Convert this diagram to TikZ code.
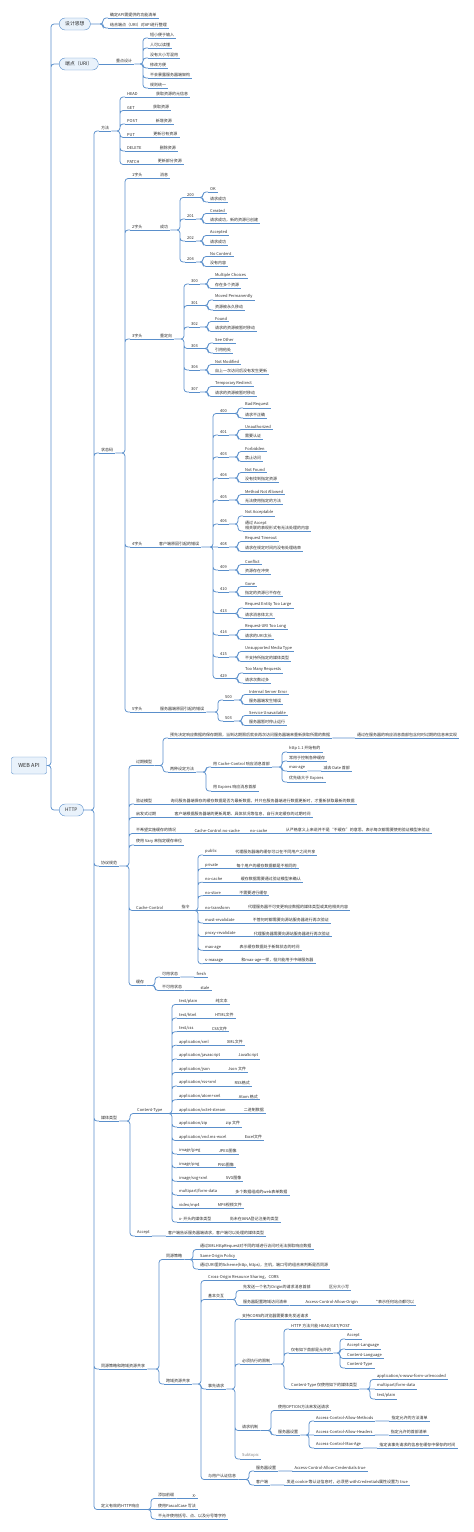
\documentclass[tikz,border=0pt]{standalone}
\usepackage{fontspec}
\newfontfamily\cjk{Noto Sans CJK SC}
\definecolor{linec}{HTML}{5A8FCB}
\definecolor{bubfill}{HTML}{E9F2FB}
\definecolor{txt}{HTML}{2B2B2B}
\tikzset{
    edge/.style={draw=linec, line width=0.75pt, rounded corners=3pt},
    topic/.style={anchor=south west, inner xsep=2pt, inner ysep=1pt, text=txt, font=\cjk\fontsize{4}{4.8}\selectfont,
        append after command={(\tikzlastnode.south west) edge[edge] (\tikzlastnode.south east)}},
    bubble/.style={draw=linec, fill=bubfill, rounded corners=6pt, anchor=west, minimum height=12pt, inner xsep=6pt, text=txt, font=\cjk\fontsize{4.8}{5}\selectfont},
    root/.style={draw=linec, fill=bubfill, rounded corners=2pt, minimum width=35pt, minimum height=17pt, text=txt, font=\cjk\fontsize{5.5}{6}\selectfont},
    trunk/.style={to path={(\tikztostart.east) -| ([xshift=-8pt]\tikztotarget.west) -- (\tikztotarget.west)}},
    hub/.style={to path={(\tikztostart.east) -| ([xshift=-5pt]\tikztotarget.south west) -- (\tikztotarget.south west)}},
    branch/.style={to path={(\tikztostart.south east) -| ([xshift=-5pt]\tikztotarget.south west) -- (\tikztotarget.south west)}},
    pair/.style={to path={(\tikztostart.south east) -- (\tikztotarget.south west)}},
}
\begin{document}
\begin{tikzpicture}[x=1pt, y=-1pt]
    \useasboundingbox (0,0) rectangle (474,1532);
    \node[root] (api) at (29,765.5) {WEB API};
    \node[bubble] (sj) at (59,24) {设计思想};
    \node[bubble] (dd) at (59,64) {端点（URI）};
    \node[bubble] (http) at (59,810) {HTTP};

    \node[topic] (sj1) at (108,18) {确定API需提供的功能清单};
    \node[topic] (sj2) at (108,28) {结合端点（URI）对API进行整理};

    \node[topic] (zd) at (114,64) {重点设计};
    \node[topic] (zd1) at (148,38) {短小便于输入};
    \node[topic] (zd2) at (148,48) {人可以读懂};
    \node[topic] (zd3) at (148,58) {没有大小写混用};
    \node[topic] (zd4) at (148,68) {修改方便};
    \node[topic] (zd5) at (148,78) {不会暴露服务器端架构};
    \node[topic] (zd6) at (148,88) {规则统一};

    \node[topic] (ff) at (99,131) {方法};
    \node[topic] (m1) at (125,97) {HEAD};
    \node[topic] (m2) at (125,110.5) {GET};
    \node[topic] (m3) at (125,124) {POST};
    \node[topic] (m4) at (125,137.5) {PUT};
    \node[topic] (m5) at (125,151) {DELETE};
    \node[topic] (m6) at (125,164.5) {PATCH};
    \node[topic] (m1v) at ([xshift=14pt]m1.south east) {获取资源的元信息};
    \node[topic] (m2v) at ([xshift=14pt]m2.south east) {获取资源};
    \node[topic] (m3v) at ([xshift=14pt]m3.south east) {新增资源};
    \node[topic] (m4v) at ([xshift=14pt]m4.south east) {更新已有资源};
    \node[topic] (m5v) at ([xshift=14pt]m5.south east) {删除资源};
    \node[topic] (m6v) at ([xshift=14pt]m6.south east) {更新部分资源};

    \node[topic] (zt) at (99,453) {状态码};
    \node[topic] (s1) at (130,178.5) {1字头};
    \node[topic] (s2) at (130,230) {2字头};
    \node[topic] (s3) at (130,339) {3字头};
    \node[topic] (s4) at (130,547) {4字头};
    \node[topic] (s5) at (130,712) {5字头};
    \node[topic] (s1a) at (158,178.5) {消息};
    \node[topic] (s2a) at (158,230) {成功};
    \node[topic] (s3a) at (158,339) {重定向};
    \node[topic] (s4a) at (157,547) {客户端原因引起的错误};
    \node[topic] (s5a) at (158,712) {服务器端原因引起的错误};

    \node[topic] (c200) at (185,197.5) {200};
    \node[topic] (c200a) at (208,192) {OK};
    \node[topic] (c200b) at (208,202) {请求成功};
    \node[topic] (c201) at (185,219) {201};
    \node[topic] (c201a) at (208,213.5) {Created};
    \node[topic] (c201b) at (208,223.5) {请求成功，新的资源已创建};
    \node[topic] (c202) at (185,241) {202};
    \node[topic] (c202a) at (208,235.5) {Accepted};
    \node[topic] (c202b) at (208,245.5) {请求成功};
    \node[topic] (c204) at (185,262) {204};
    \node[topic] (c204a) at (208,256.5) {No Content};
    \node[topic] (c204b) at (208,266.5) {没有内容};

    \node[topic] (c300) at (189,284) {300};
    \node[topic] (c300a) at (213,278.5) {Multiple Choices};
    \node[topic] (c300b) at (213,288.5) {存在多个资源};
    \node[topic] (c301) at (189,305.5) {301};
    \node[topic] (c301a) at (213,300) {Moved Permanently};
    \node[topic] (c301b) at (213,310) {资源被永久移动};
    \node[topic] (c302) at (189,327) {302};
    \node[topic] (c302a) at (213,321.5) {Found};
    \node[topic] (c302b) at (213,331.5) {请求的资源被暂时移动};
    \node[topic] (c303) at (189,348.5) {303};
    \node[topic] (c303a) at (213,343) {See Other};
    \node[topic] (c303b) at (213,353) {引用他处};
    \node[topic] (c304) at (189,370) {304};
    \node[topic] (c304a) at (213,364.5) {Not Modified};
    \node[topic] (c304b) at (213,374.5) {自上一次访问后没有发生更新};
    \node[topic] (c307) at (189,392) {307};
    \node[topic] (c307a) at (213,386.5) {Temporary Redirect};
    \node[topic] (c307b) at (213,396.5) {请求的资源被暂时移动};

    \node[topic] (c400) at (218,413.5) {400};
    \node[topic] (c400a) at (243,408) {Bad Request};
    \node[topic] (c400b) at (243,418) {请求不正确};
    \node[topic] (c401) at (218,435) {401};
    \node[topic] (c401a) at (243,429.5) {Unauthorized};
    \node[topic] (c401b) at (243,439.5) {需要认证};
    \node[topic] (c403) at (218,457) {403};
    \node[topic] (c403a) at (243,451.5) {Forbidden};
    \node[topic] (c403b) at (243,461.5) {禁止访问};
    \node[topic] (c404) at (218,478) {404};
    \node[topic] (c404a) at (243,472.5) {Not Found};
    \node[topic] (c404b) at (243,482.5) {没有找到指定资源};
    \node[topic] (c405) at (218,500) {405};
    \node[topic] (c405a) at (243,494.5) {Method Not Allowed};
    \node[topic] (c405b) at (243,504.5) {无法使用指定的方法};
    \node[topic] (c406) at (218,524) {406};
    \node[topic] (c406a) at (243,516) {Not Acceptable};
    \node[topic, align=left] (c406b) at (243,531) {通过 Accept\\相关联的表现形式有无法处理的内容};
    \node[topic] (c408) at (218,547) {408};
    \node[topic] (c408a) at (243,541.5) {Request Timeout};
    \node[topic] (c408b) at (243,551.5) {请求在规定时间内没有处理结束};
    \node[topic] (c409) at (218,570) {409};
    \node[topic] (c409a) at (243,564.5) {Conflict};
    \node[topic] (c409b) at (243,574.5) {资源存在冲突};
    \node[topic] (c410) at (218,592) {410};
    \node[topic] (c410a) at (243,586.5) {Gone};
    \node[topic] (c410b) at (243,596.5) {指定的资源已不存在};
    \node[topic] (c413) at (218,613.5) {413};
    \node[topic] (c413a) at (243,608) {Request Entity Too Large};
    \node[topic] (c413b) at (243,618) {请求消息体太大};
    \node[topic] (c414) at (218,635) {414};
    \node[topic] (c414a) at (243,629.5) {Request-URI Too Long};
    \node[topic] (c414b) at (243,639.5) {请求的URI太长};
    \node[topic] (c415) at (218,657) {415};
    \node[topic] (c415a) at (243,651.5) {Unsupported Media Type};
    \node[topic] (c415b) at (243,661.5) {不支持所指定的媒体类型};
    \node[topic] (c429) at (218,678.5) {429};
    \node[topic] (c429a) at (243,673) {Too Many Requests};
    \node[topic] (c429b) at (243,683) {请求次数过多};

    \node[topic] (c500) at (223,700) {500};
    \node[topic] (c500a) at (247,694.5) {Internal Server Error};
    \node[topic] (c500b) at (247,704.5) {服务器端发生错误};
    \node[topic] (c503) at (223,721) {503};
    \node[topic] (c503a) at (247,715.5) {Service Unavailable};
    \node[topic] (c503b) at (247,725.5) {服务器暂时停止运行};

    \node[topic] (xy) at (99,866) {协议规范};
    \node[topic] (gq) at (134,765.5) {过期模型};
    \node[topic] (gq1) at (168,738) {预先决定响应数据的保存期限，当到达期限后就会再次访问服务器端来重新获取所需的数据};
    \node[topic] (gq1v) at (355,738) {通过在服务器的响应消息首部包含何时过期的信息来实现};
    \node[topic] (gq2) at (168,772) {两种设定方法};
    \node[topic] (cm) at (211,767) {用 Cache-Control 响应消息首部};
    \node[topic] (em) at (211,791) {用 Expires 响应消息首部};
    \node[topic] (cm1) at (287,752) {http 1.1 开始有的};
    \node[topic] (cm2) at (287,761) {常用于控制各种缓存};
    \node[topic] (cm3) at (287,771) {max-age};
    \node[topic] (cm3v) at ([xshift=14pt]cm3.south east) {减去 Date 首部};
    \node[topic] (cm4) at (287,782) {优先级大于 Expires};
    \node[topic] (yz) at (134,804) {验证模型};
    \node[topic] (yzv) at ([xshift=14pt]yz.south east) {询问服务器端保存的缓存数据是否为最新数据，并只在服务器端进行数据更新时，才重新获取最新的数据};
    \node[topic] (qf) at (134,817.5) {启发式过期};
    \node[topic] (qfv) at ([xshift=14pt]qf.south east) {客户端根据服务器端的更新周期、具体状况等信息，自行决定缓存的过期时间};
    \node[topic] (bx) at (134,833.5) {不希望实施缓存的情况};
    \node[topic] (bx1) at ([xshift=14pt]bx.south east) {Cache-Control:no-cache};
    \node[topic] (bx2) at ([xshift=6pt]bx1.south east) {no-cache};
    \node[topic] (bx3) at ([xshift=14pt]bx2.south east) {从严格意义上来说并不是“不缓存”的意思，表示每次都需要使用验证模型来验证};
    \node[topic] (vy) at (134,845) {使用 Vary 来指定缓存单位};

    \node[topic] (cc) at (134,910.5) {Cache-Control};
    \node[topic] (zl) at ([xshift=14pt]cc.south east) {指令};
    \node[topic] (d1) at (203,855) {public};
    \node[topic] (d2) at (203,868.6) {private};
    \node[topic] (d3) at (203,882.2) {no-cache};
    \node[topic] (d4) at (203,895.8) {no-store};
    \node[topic] (d5) at (203,910.5) {no-transform};
    \node[topic] (d6) at (203,923) {must-revalidate};
    \node[topic] (d7) at (203,936.6) {proxy-revalidate};
    \node[topic] (d8) at (203,950.2) {max-age};
    \node[topic] (d9) at (203,963.8) {s-maxage};
    \node[topic] (d1v) at ([xshift=14pt]d1.south east) {代理服务器端的缓存可以在不同用户之间共享};
    \node[topic] (d2v) at ([xshift=14pt]d2.south east) {每个用户的缓存数据都是不相同的};
    \node[topic] (d3v) at ([xshift=14pt]d3.south east) {缓存数据需要通过验证模型来确认};
    \node[topic] (d4v) at ([xshift=14pt]d4.south east) {不需要进行缓存};
    \node[topic] (d5v) at ([xshift=14pt]d5.south east) {代理服务器不可变更响应数据的媒体类型或其他相关内容};
    \node[topic] (d6v) at ([xshift=14pt]d6.south east) {不管何时都需要向源站服务器进行再次验证};
    \node[topic] (d7v) at ([xshift=14pt]d7.south east) {代理服务器需要向源站服务器进行再次验证};
    \node[topic] (d8v) at ([xshift=14pt]d8.south east) {表示缓存数据处于新鲜状态的时间};
    \node[topic] (d9v) at ([xshift=14pt]d9.south east) {和max-age一样，但只能用于中继服务器};

    \node[topic] (hc) at (134,985.5) {缓存};
    \node[topic] (hc1) at (160,977) {可用状态};
    \node[topic] (hc1v) at ([xshift=14pt]hc1.south east) {fresh};
    \node[topic] (hc2) at (160,990.5) {不可用状态};
    \node[topic] (hc2v) at ([xshift=14pt]hc2.south east) {stale};

    \node[topic] (mt) at (99,1121) {媒体类型};
    \node[topic] (ct) at (135,1113.5) {Content-Type};
    \node[topic] (t1) at (177,1004.5) {text/plain};
    \node[topic] (t2) at (177,1018.1) {text/html};
    \node[topic] (t3) at (177,1031.7) {text/css};
    \node[topic] (t4) at (177,1045.3) {application/xml};
    \node[topic] (t5) at (177,1058.9) {application/javascript};
    \node[topic] (t6) at (177,1072.5) {application/json};
    \node[topic] (t7) at (177,1086.1) {application/rss+xml};
    \node[topic] (t8) at (177,1099.7) {application/atom+xml};
    \node[topic] (t9) at (177,1113.5) {application/octet-stream};
    \node[topic] (t10) at (177,1126.9) {application/zip};
    \node[topic] (t11) at (177,1140.5) {application/vnd.ms-excel};
    \node[topic] (t12) at (177,1154.1) {image/jpeg};
    \node[topic] (t13) at (177,1167.7) {image/png};
    \node[topic] (t14) at (177,1181.3) {image/svg+xml};
    \node[topic] (t15) at (177,1194.9) {multipart/form-data};
    \node[topic] (t16) at (177,1208.5) {video/mp4};
    \node[topic] (t17) at (177,1222.1) {x- 开头的媒体类型};
    \node[topic] (t1v) at ([xshift=14pt]t1.south east) {纯文本};
    \node[topic] (t2v) at ([xshift=14pt]t2.south east) {HTML文件};
    \node[topic] (t3v) at ([xshift=14pt]t3.south east) {CSS文件};
    \node[topic] (t4v) at ([xshift=14pt]t4.south east) {XML文件};
    \node[topic] (t5v) at ([xshift=14pt]t5.south east) {JavaScript};
    \node[topic] (t6v) at ([xshift=14pt]t6.south east) {Json 文件};
    \node[topic] (t7v) at ([xshift=14pt]t7.south east) {RSS格式};
    \node[topic] (t8v) at ([xshift=14pt]t8.south east) {Atom 格式};
    \node[topic] (t9v) at ([xshift=14pt]t9.south east) {二进制数据};
    \node[topic] (t10v) at ([xshift=14pt]t10.south east) {zip 文件};
    \node[topic] (t11v) at ([xshift=14pt]t11.south east) {Excel文件};
    \node[topic] (t12v) at ([xshift=14pt]t12.south east) {JPEG图像};
    \node[topic] (t13v) at ([xshift=14pt]t13.south east) {PNG图像};
    \node[topic] (t14v) at ([xshift=14pt]t14.south east) {SVG图像};
    \node[topic] (t15v) at ([xshift=14pt]t15.south east) {多个数据组成的web表单数据};
    \node[topic] (t16v) at ([xshift=14pt]t16.south east) {MP4视频文件};
    \node[topic] (t17v) at ([xshift=14pt]t17.south east) {尚未在IANA登记注册的类型};
    \node[topic] (ac) at (135,1236) {Accept};
    \node[topic] (acv) at ([xshift=14pt]ac.south east) {客户端告诉服务器端请求，客户端可以处理的媒体类型};

    \node[topic] (ky) at (99,1369) {同源策略和跨域资源共享};
    \node[topic] (ty) at (164,1259.5) {同源策略};
    \node[topic] (ty1) at (198,1249.5) {通过XMLHttpRequest对不同的域进行访问时无法获取响应数据};
    \node[topic] (ty2) at (198,1259.5) {Same Origin Policy};
    \node[topic] (ty3) at (198,1269) {通过URI里的Scheme(http, https)，主机，端口号的组合来判断是否同源};
    \node[topic] (kz) at (164,1384) {跨域资源共享};
    \node[topic] (kz1) at (206,1280.5) {Cross-Origin Resource Sharing，CORS};
    \node[topic] (kz2) at (206,1299.5) {基本交互};
    \node[topic] (jb1) at (241,1290.5) {先发送一个名为Origin的请求消息首部};
    \node[topic] (jb1v) at ([xshift=14pt]jb1.south east) {区分大小写};
    \node[topic] (jb2) at (241,1305.5) {服务器配置跨域访问清单};
    \node[topic] (jb2v) at ([xshift=14pt]jb2.south east) {Access-Control-Allow-Origin};
    \node[topic] (jb2w) at ([xshift=14pt]jb2v.south east) {*表示任何站点都可以};
    \node[topic] (kz3) at (206,1389) {事先请求};
    \node[topic] (sx1) at (240,1319) {支持CORS的浏览器需要事先发送请求};
    \node[topic] (sx2) at (240,1364) {必须执行的限制};
    \node[topic] (xz1) at (289,1329) {HTTP 方法只能 HEAD/GET/POST};
    \node[topic] (xz2) at (289,1353) {仅有如下首部是允许的};
    \node[topic] (xb1) at (345,1339) {Accept};
    \node[topic] (xb2) at (345,1349) {Accept-Language};
    \node[topic] (xb3) at (345,1358.5) {Content-Language};
    \node[topic] (xb4) at (345,1368) {Content-Type};
    \node[topic] (xz3) at (289,1389) {Content-Type 仅使用如下的媒体类型};
    \node[topic] (xm1) at (375,1379.5) {application/x-www-form-urlencoded};
    \node[topic] (xm2) at (375,1389) {multipart/form-data};
    \node[topic] (xm3) at (375,1399) {text/plain};
    \node[topic] (sx3) at (240,1430.5) {请求机制};
    \node[topic] (jz1) at (276,1410.5) {使用OPTION方法来发送请求};
    \node[topic] (jz2) at (276,1435) {服务器设置};
    \node[topic] (fw1) at (314,1421) {Access-Control-Allow-Methods};
    \node[topic] (fw2) at (314,1435) {Access-Control-Allow-Headers};
    \node[topic] (fw3) at (314,1448) {Access-Control-Max-Age};
    \node[topic] (fw1v) at ([xshift=14pt]fw1.south east) {指定允许的方法清单};
    \node[topic] (fw2v) at ([xshift=14pt]fw2.south east) {指定允许的首部清单};
    \node[topic] (fw3v) at ([xshift=14pt]fw3.south east) {指定该事先请求的信息在缓存中保存的时间};
    \node[topic, text=gray] (sx4) at (240,1459) {Subtopic};
    \node[topic] (kz4) at (206,1479.5) {与用户认证信息};
    \node[topic] (rz1) at (254,1471) {服务器设置};
    \node[topic] (rz1v) at ([xshift=14pt]rz1.south east) {Access-Control-Allow-Credentials:true};
    \node[topic] (rz2) at (254,1485) {客户端};
    \node[topic] (rz2v) at ([xshift=14pt]rz2.south east) {发送 cookie 等认证信息时，必须把 withCredentials属性设置为 true};

    \node[topic] (dy) at (99,1509.5) {定义有效的HTTP响应};
    \node[topic] (dy1) at (156,1498.5) {添加前缀};
    \node[topic] (dy1v) at ([xshift=14pt]dy1.south east) {X-};
    \node[topic] (dy2) at (156,1509.5) {使用PascalCase 写法};
    \node[topic] (dy3) at (156,1519) {不允许使用括号、点、以及分号等字符};

    \draw[edge] (api) to[trunk] (sj) (api) to[trunk] (dd) (api) to[trunk] (http);
    \draw[edge] (sj) to[hub] (sj1) (sj) to[hub] (sj2);
    \draw[edge] (dd.east) -- (zd.south west);
    \draw[edge] (zd) to[branch] (zd1) (zd) to[branch] (zd2) (zd) to[branch] (zd3)
        (zd) to[branch] (zd4) (zd) to[branch] (zd5) (zd) to[branch] (zd6);
    \draw[edge] (http) to[hub] (ff) (http) to[hub] (zt) (http) to[hub] (xy)
        (http) to[hub] (mt) (http) to[hub] (ky) (http) to[hub] (dy);

    \draw[edge] (ff) to[branch] (m1) (ff) to[branch] (m2) (ff) to[branch] (m3)
        (ff) to[branch] (m4) (ff) to[branch] (m5) (ff) to[branch] (m6);
    \draw[edge] (m1) to[pair] (m1v) (m2) to[pair] (m2v) (m3) to[pair] (m3v)
        (m4) to[pair] (m4v) (m5) to[pair] (m5v) (m6) to[pair] (m6v);

    \draw[edge] (zt) to[branch] (s1) (zt) to[branch] (s2) (zt) to[branch] (s3)
        (zt) to[branch] (s4) (zt) to[branch] (s5);
    \draw[edge] (s1) to[pair] (s1a) (s2) to[pair] (s2a) (s3) to[pair] (s3a)
        (s4) to[pair] (s4a) (s5) to[pair] (s5a);
    \draw[edge] (s2a) to[branch] (c200) (s2a) to[branch] (c201) (s2a) to[branch] (c202) (s2a) to[branch] (c204);
    \draw[edge] (c200) to[branch] (c200a) (c200) to[branch] (c200b) (c201) to[branch] (c201a) (c201) to[branch] (c201b)
        (c202) to[branch] (c202a) (c202) to[branch] (c202b) (c204) to[branch] (c204a) (c204) to[branch] (c204b);
    \draw[edge] (s3a) to[branch] (c300) (s3a) to[branch] (c301) (s3a) to[branch] (c302)
        (s3a) to[branch] (c303) (s3a) to[branch] (c304) (s3a) to[branch] (c307);
    \draw[edge] (c300) to[branch] (c300a) (c300) to[branch] (c300b) (c301) to[branch] (c301a) (c301) to[branch] (c301b)
        (c302) to[branch] (c302a) (c302) to[branch] (c302b) (c303) to[branch] (c303a) (c303) to[branch] (c303b)
        (c304) to[branch] (c304a) (c304) to[branch] (c304b) (c307) to[branch] (c307a) (c307) to[branch] (c307b);
    \draw[edge] (s4a) to[branch] (c400) (s4a) to[branch] (c401) (s4a) to[branch] (c403) (s4a) to[branch] (c404)
        (s4a) to[branch] (c405) (s4a) to[branch] (c406) (s4a) to[pair] (c408) (s4a) to[branch] (c409)
        (s4a) to[branch] (c410) (s4a) to[branch] (c413) (s4a) to[branch] (c414) (s4a) to[branch] (c415) (s4a) to[branch] (c429);
    \draw[edge] (c400) to[branch] (c400a) (c400) to[branch] (c400b) (c401) to[branch] (c401a) (c401) to[branch] (c401b)
        (c403) to[branch] (c403a) (c403) to[branch] (c403b) (c404) to[branch] (c404a) (c404) to[branch] (c404b)
        (c405) to[branch] (c405a) (c405) to[branch] (c405b) (c406) to[branch] (c406a) (c406) to[branch] (c406b)
        (c408) to[branch] (c408a) (c408) to[branch] (c408b) (c409) to[branch] (c409a) (c409) to[branch] (c409b)
        (c410) to[branch] (c410a) (c410) to[branch] (c410b) (c413) to[branch] (c413a) (c413) to[branch] (c413b)
        (c414) to[branch] (c414a) (c414) to[branch] (c414b) (c415) to[branch] (c415a) (c415) to[branch] (c415b)
        (c429) to[branch] (c429a) (c429) to[branch] (c429b);
    \draw[edge] (s5a) to[branch] (c500) (s5a) to[branch] (c503);
    \draw[edge] (c500) to[branch] (c500a) (c500) to[branch] (c500b) (c503) to[branch] (c503a) (c503) to[branch] (c503b);

    \draw[edge] (xy) to[branch] (gq) (xy) to[branch] (yz) (xy) to[branch] (qf) (xy) to[branch] (bx)
        (xy) to[branch] (vy) (xy) to[branch] (cc) (xy) to[branch] (hc);
    \draw[edge] (gq) to[branch] (gq1) (gq) to[branch] (gq2) (gq1) to[pair] (gq1v);
    \draw[edge] (gq2) to[branch] (cm) (gq2) to[branch] (em);
    \draw[edge] (cm) to[branch] (cm1) (cm) to[branch] (cm2) (cm) to[branch] (cm3) (cm) to[branch] (cm4) (cm3) to[pair] (cm3v);
    \draw[edge] (yz) to[pair] (yzv) (qf) to[pair] (qfv);
    \draw[edge] (bx) to[pair] (bx1) (bx1) to[pair] (bx2) (bx2) to[pair] (bx3);
    \draw[edge] (cc) to[pair] (zl);
    \draw[edge] (zl) to[branch] (d1) (zl) to[branch] (d2) (zl) to[branch] (d3) (zl) to[branch] (d4) (zl) to[pair] (d5)
        (zl) to[branch] (d6) (zl) to[branch] (d7) (zl) to[branch] (d8) (zl) to[branch] (d9);
    \draw[edge] (d1) to[pair] (d1v) (d2) to[pair] (d2v) (d3) to[pair] (d3v) (d4) to[pair] (d4v) (d5) to[pair] (d5v)
        (d6) to[pair] (d6v) (d7) to[pair] (d7v) (d8) to[pair] (d8v) (d9) to[pair] (d9v);
    \draw[edge] (hc) to[branch] (hc1) (hc) to[branch] (hc2) (hc1) to[pair] (hc1v) (hc2) to[pair] (hc2v);

    \draw[edge] (mt) to[branch] (ct) (mt) to[branch] (ac) (ac) to[pair] (acv);
    \draw[edge] (ct) to[branch] (t1) (ct) to[branch] (t2) (ct) to[branch] (t3) (ct) to[branch] (t4) (ct) to[branch] (t5)
        (ct) to[branch] (t6) (ct) to[branch] (t7) (ct) to[branch] (t8) (ct) to[pair] (t9) (ct) to[branch] (t10)
        (ct) to[branch] (t11) (ct) to[branch] (t12) (ct) to[branch] (t13) (ct) to[branch] (t14) (ct) to[branch] (t15)
        (ct) to[branch] (t16) (ct) to[branch] (t17);
    \draw[edge] (t1) to[pair] (t1v) (t2) to[pair] (t2v) (t3) to[pair] (t3v) (t4) to[pair] (t4v) (t5) to[pair] (t5v)
        (t6) to[pair] (t6v) (t7) to[pair] (t7v) (t8) to[pair] (t8v) (t9) to[pair] (t9v) (t10) to[pair] (t10v)
        (t11) to[pair] (t11v) (t12) to[pair] (t12v) (t13) to[pair] (t13v) (t14) to[pair] (t14v) (t15) to[pair] (t15v)
        (t16) to[pair] (t16v) (t17) to[pair] (t17v);

    \draw[edge] (ky) to[branch] (ty) (ky) to[branch] (kz);
    \draw[edge] (ty) to[branch] (ty1) (ty) to[pair] (ty2) (ty) to[branch] (ty3);
    \draw[edge] (kz) to[branch] (kz1) (kz) to[branch] (kz2) (kz) to[branch] (kz3) (kz) to[branch] (kz4);
    \draw[edge] (kz2) to[branch] (jb1) (kz2) to[branch] (jb2) (jb1) to[pair] (jb1v) (jb2) to[pair] (jb2v) (jb2v) to[pair] (jb2w);
    \draw[edge] (kz3) to[branch] (sx1) (kz3) to[branch] (sx2) (kz3) to[branch] (sx3) (kz3) to[branch] (sx4);
    \draw[edge] (sx2) to[branch] (xz1) (sx2) to[branch] (xz2) (sx2) to[branch] (xz3);
    \draw[edge] (xz2) to[branch] (xb1) (xz2) to[branch] (xb2) (xz2) to[branch] (xb3) (xz2) to[branch] (xb4);
    \draw[edge] (xz3) to[branch] (xm1) (xz3) to[pair] (xm2) (xz3) to[branch] (xm3);
    \draw[edge] (sx3) to[branch] (jz1) (sx3) to[branch] (jz2);
    \draw[edge] (jz2) to[branch] (fw1) (jz2) to[pair] (fw2) (jz2) to[branch] (fw3)
        (fw1) to[pair] (fw1v) (fw2) to[pair] (fw2v) (fw3) to[pair] (fw3v);
    \draw[edge] (kz4) to[branch] (rz1) (kz4) to[branch] (rz2) (rz1) to[pair] (rz1v) (rz2) to[pair] (rz2v);

    \draw[edge] (dy) to[branch] (dy1) (dy) to[pair] (dy2) (dy) to[branch] (dy3) (dy1) to[pair] (dy1v);
\end{tikzpicture}
\end{document}
